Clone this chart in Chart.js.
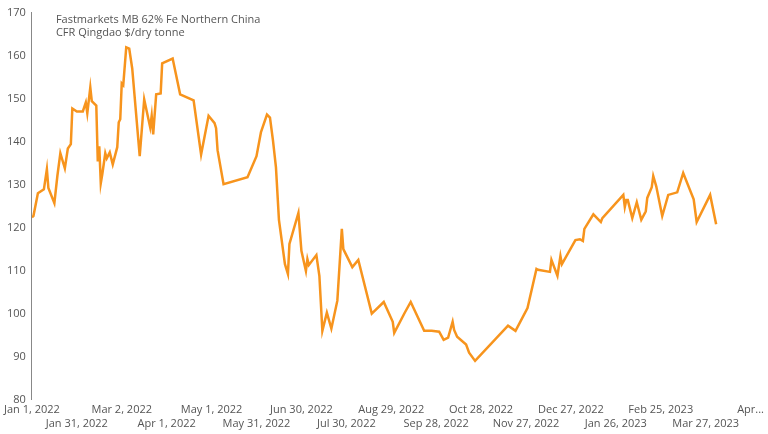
<!DOCTYPE html>
<html>
<head>
<meta charset="utf-8">
<script src="https://cdn.jsdelivr.net/npm/chart.js@4"></script>
<style>
body { margin: 0; background: #fff; }
#wrap { width: 768px; height: 434px; }
</style>
</head>
<body>
<div id="wrap"><canvas id="myChart"></canvas></div>
<script>
// days since Jan 1, 2022
var days = [0,1,4,8,10,11,15,17,19,22,24,26,27,30,34,36,37,39,40,43,44,45,46,47,49,50,52,54,57,58,59,60,61,63,65,67,72,75,79,80,81,83,86,87,94,99,108,113,118,122,123,124,128,144,150,153,157,159,161,163,165,169,171,172,178,180,183,184,185,190,192,194,197,200,204,207,208,214,218,227,235,241,242,249,253,262,267,272,275,278,281,282,284,290,292,296,318,323,331,337,338,346,347,351,353,354,363,366,368,369,375,380,381,395,396,397,398,401,404,407,410,411,414,415,417,421,425,431,435,442,444,453,457];
var prices = [122.4,122.7,128,128.9,133.6,129.2,125.7,132,137.3,133.8,138.4,139.4,147.7,147,147,149.1,146.6,152.6,149.4,148.4,135.4,138.9,130.3,132.4,137.3,136.1,137.5,134.7,138.7,144.5,145.2,153.5,153.1,161.9,161.6,157,136.6,149.8,143.3,146,141.7,151,151.2,158.2,159.3,151,149.6,137,146,144.3,143.1,138,130.1,131.7,136.6,142.2,146.3,145.6,140.3,134,121.8,111.5,109.2,116.2,123.4,114.6,109.9,112.7,111.3,113.6,108.8,96,100.2,96.5,103,119.7,115,110.8,112.5,100,102.7,98.1,95.5,100.2,102.7,96,96,95.8,93.9,94.4,98.1,96.2,94.6,92.8,90.9,89,97.2,96,101.3,110.4,110.2,109.7,112.5,108.8,113.4,111.5,117.1,117.3,116.9,119.7,123.1,121.3,122.2,127.6,124.8,126.4,126.4,122.2,125.9,121.8,123.8,126.9,129.4,132,129.6,122.7,127.6,128.2,132.7,126.6,121.3,127.6,120.8];
var tickStart = 0, tickEnd = 480, tickStep = 30;
var yMin = 80, yMax = 170, yStep = 10;
var titleLines = ["Fastmarkets MB 62% Fe Northern China", "CFR Qingdao $/dry tonne"];

var months = ["Jan","Feb","Mar","Apr","May","Jun","Jul","Aug","Sep","Oct","Nov","Dec"];
function dayLabel(d) {
    var dt = new Date(Date.UTC(2022, 0, 1 + d));
    return months[dt.getUTCMonth()] + " " + dt.getUTCDate() + ", " + dt.getUTCFullYear();
}

var titlePlugin = {
    id: 'innerTitle',
    afterDraw: function (chart) {
        var c = chart.ctx;
        c.save();
        c.fillStyle = '#555';
        c.font = '11px "Open Sans"';
        c.textBaseline = 'top';
        titleLines.forEach(function (t, i) {
            c.fillText(t, chart.chartArea.left + 24, chart.chartArea.top + 2 + i * 13);
        });
        c.restore();
    }
};

const ctx = document.getElementById('myChart');
new Chart(ctx, {
    type: 'line',
    data: {
        datasets: [{
            data: days.map(function (d, i) { return { x: d, y: prices[i] }; }),
            borderColor: '#f7941d',
            borderWidth: 2.5,
            pointRadius: 0,
            tension: 0,
            fill: false
        }]
    },
    options: {
        responsive: true,
        maintainAspectRatio: false,
        animation: false,
        layout: { padding: { top: 4, right: 14, left: 0, bottom: 0 } },
        plugins: { legend: { display: false }, tooltip: { enabled: false } },
        scales: {
            x: {
                type: 'linear',
                min: tickStart, max: tickEnd,
                grid: { display: false, drawTicks: false },
                border: { display: false },
                ticks: {
                    stepSize: tickStep, autoSkip: false, maxRotation: 0,
                    color: '#555', font: { family: 'Open Sans', size: 11 }, padding: 4,
                    callback: function (v, i) {
                        var lab = v >= tickEnd ? "Apr..." : dayLabel(v);
                        return i % 2 === 0 ? [lab, ""] : ["", lab];
                    }
                }
            },
            y: {
                min: yMin, max: yMax,
                grid: { display: false, drawTicks: false },
                border: { display: true, color: '#888' },
                ticks: { stepSize: yStep, color: '#555', font: { family: 'Open Sans', size: 11 }, padding: 6 }
            }
        }
    },
    plugins: [titlePlugin]
});
</script>
</body>
</html>
